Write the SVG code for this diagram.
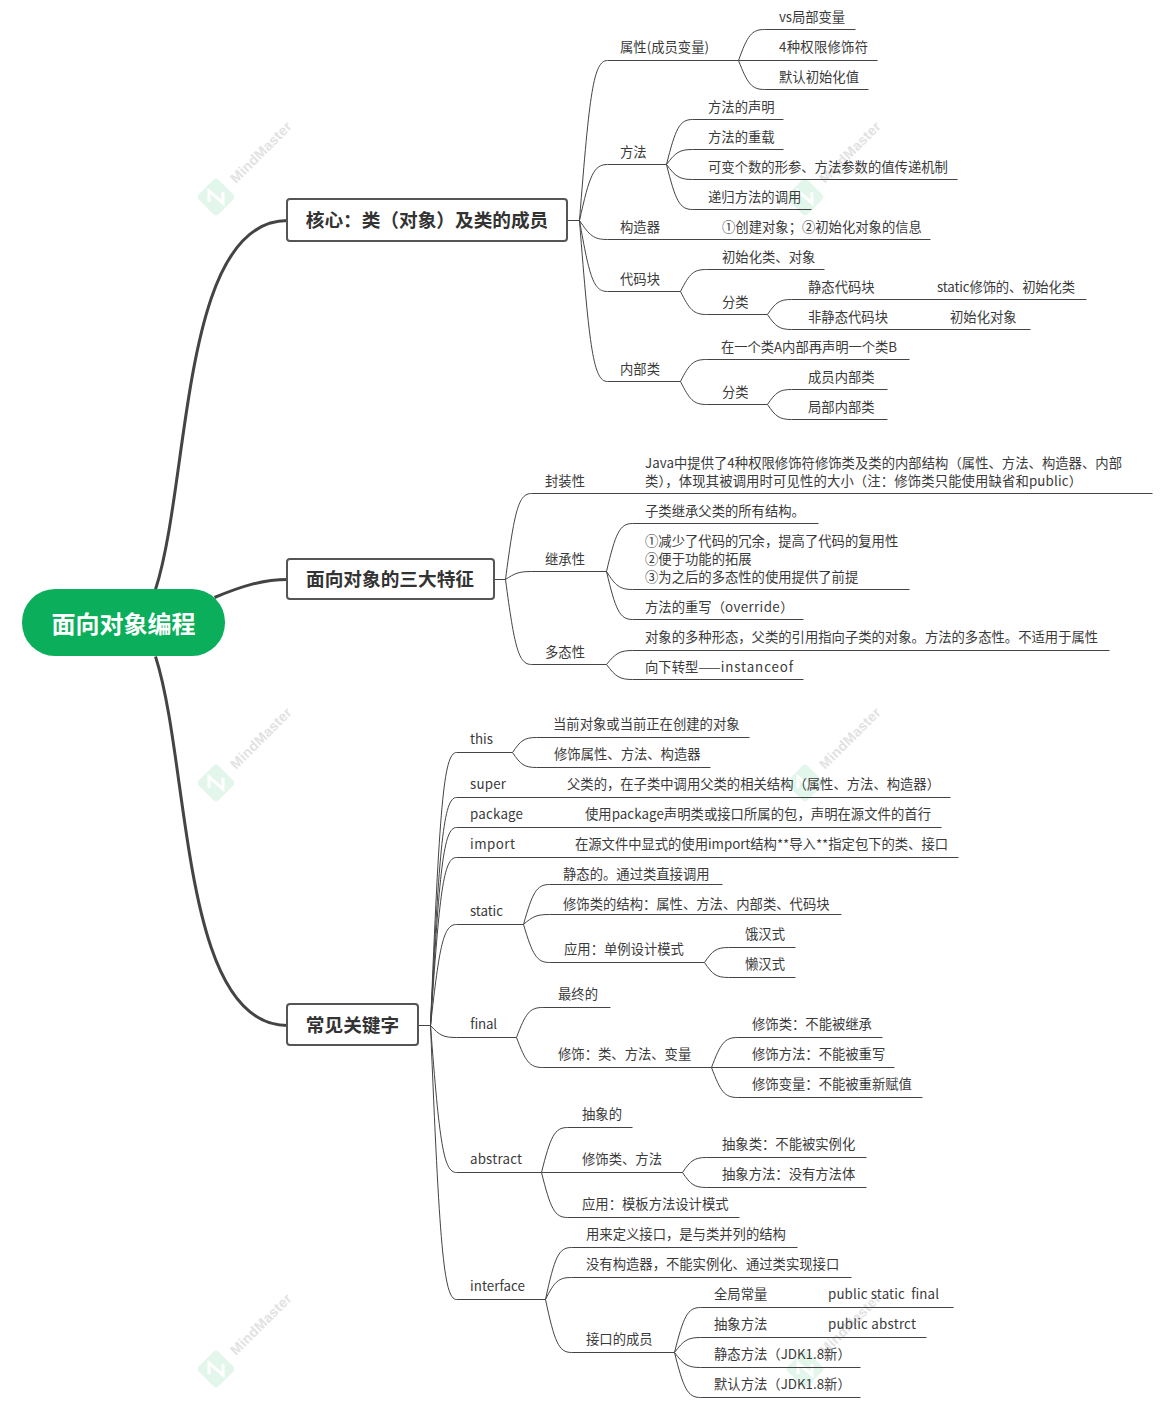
<svg xmlns="http://www.w3.org/2000/svg" width="1172" height="1417" viewBox="0 0 1172 1417">
<style>
text{font-family:"Noto Sans CJK SC","Noto Sans",sans-serif;font-size:13.33px;fill:#3a3a3a}
.t{font-size:18.67px;font-weight:700;text-anchor:middle;fill:#333}
.r{font-size:24px;font-weight:700;fill:#fff;text-anchor:middle}
.b{fill:#fff;stroke:#555;stroke-width:2}
.c{fill:none;stroke:#444;stroke-width:1}
.k{fill:none;stroke:#444;stroke-width:3}
.m{font-family:"Liberation Sans",sans-serif;font-size:14px;font-weight:700;fill:#e2e2e2}
.d{fill:#e2f6ec}
.n{fill:none;stroke:#fff;stroke-width:3}
.l{letter-spacing:.4px}
.i{letter-spacing:.9px}
</style>
<defs>
<g id="wm">
<rect class="d" x="-14" y="-14" width="28" height="28" rx="4" transform="rotate(45)"/>
<path class="n" d="M-7,5 L-7,-6 L7,6 L7,-5"/>
<text class="m" x="0" y="0" textLength="80" transform="translate(20,-13) rotate(-45)">MindMaster</text>
</g>
</defs>
<g id="watermarks">
<use href="#wm" x="216" y="197"/><use href="#wm" x="805" y="197"/>
<use href="#wm" x="216" y="783"/><use href="#wm" x="805" y="783"/>
<use href="#wm" x="216" y="1369"/><use href="#wm" x="805" y="1369"/>
</g>
<g id="connectors" transform="translate(.5,.5)">
<path class="k" d="M155 589C190 480 180 220 287 220"/>
<path class="k" d="M214 597C240 586 262 579 287 579"/>
<path class="k" d="M155 656C190 765 180 1025 287 1025"/>
<path class="c" d="M567 220H579M579 220c10,-128 14,-160 28,-160H738M579 220c10,-45 14,-56 28,-56H666M579 220c10,15 14,19 28,19H930M579 220c10,57 14,71 28,71H680M579 220c10,129 14,161 28,161H680"/>
<path class="c" d="M738 60c9,-25 13,-31 26,-31H855M738 60H877M738 60c9,23 13,29 26,29H868"/>
<path class="c" d="M666 164c9,-36 13,-45 26,-45H783M666 164c9,-12 13,-15 26,-15H783M666 164c9,12 13,15 26,15H957M666 164c9,36 13,45 26,45H811"/>
<path class="c" d="M680 291c9,-18 13,-22 26,-22H824M680 291c9,18 13,23 26,23H767"/>
<path class="c" d="M767 314c8,-12 12,-15 24,-15H1086M767 314c8,12 12,15 24,15H1030"/>
<path class="c" d="M680 381c9,-18 13,-22 26,-22H909M680 381c9,18 13,23 26,23H767"/>
<path class="c" d="M767 404c8,-12 12,-15 24,-15H887M767 404c8,12 12,15 24,15H887"/>
<path class="c" d="M494 579H505M505 579c9,-69 13,-86 26,-86H1152M505 579c9,-6 13,-8 26,-8H606M505 579c9,68 13,85 26,85H606"/>
<path class="c" d="M606 571c9,-38 13,-48 26,-48H818M606 571c9,14 13,18 26,18H909M606 571c9,38 13,48 26,48H803"/>
<path class="c" d="M606 664c9,-11 13,-14 26,-14H1109M606 664c9,12 13,15 26,15H803"/>
<path class="c" d="M418 1025H430M430 1025c9,-218 13,-273 26,-273H512M430 1025c9,-182 13,-228 26,-228H950M430 1025c9,-158 13,-198 26,-198H941M430 1025c9,-134 13,-168 26,-168H958M430 1025c9,-81 13,-101 26,-101H523M430 1025c9,10 13,12 26,12H516M430 1025c9,118 13,147 26,147H541M430 1025c9,219 13,274 26,274H545"/>
<path class="c" d="M512 752c8,-12 12,-15 24,-15H749M512 752c8,12 12,15 24,15H710"/>
<path class="c" d="M523 924c9,-32 13,-40 26,-40H722M523 924c9,-8 13,-10 26,-10H841M523 924c9,30 13,38 26,38H704"/>
<path class="c" d="M704 962c8,-12 12,-15 24,-15H795M704 962c8,12 12,15 24,15H795"/>
<path class="c" d="M516 1037c9,-24 13,-30 26,-30H610M516 1037c9,24 13,30 26,30H711"/>
<path class="c" d="M711 1067c9,-24 13,-30 26,-30H882M711 1067H894M711 1067c9,24 13,30 26,30H922"/>
<path class="c" d="M541 1172c9,-36 13,-45 26,-45H632M541 1172H682M541 1172c9,36 13,45 26,45H739"/>
<path class="c" d="M682 1172c8,-12 12,-15 24,-15H866M682 1172c8,12 12,15 24,15H866"/>
<path class="c" d="M545 1299c9,-42 13,-52 26,-52H797M545 1299c9,-18 13,-22 26,-22H851M545 1299c9,42 13,53 26,53H674"/>
<path class="c" d="M674 1352c9,-36 13,-45 26,-45H953M674 1352c9,-12 13,-15 26,-15H926M674 1352c9,12 13,15 26,15H860M674 1352c9,36 13,45 26,45H860"/>
</g>
<g id="root"><rect x="22" y="589" width="203" height="67" rx="33" fill="#0bae5b"/><text class="r" x="123.500" y="633">面向对象编程</text></g>
<g id="n1"><rect class="b" x="287" y="199" width="280" height="42" rx="3"/><text class="t" x="427" y="227">核心：类（对象）及类的成员</text></g>
<g id="n2"><rect class="b" x="287" y="559" width="207" height="40" rx="3"/><text class="t" x="390" y="586">面向对象的三大特征</text></g>
<g id="n3"><rect class="b" x="287" y="1004" width="131" height="41" rx="3"/><text class="t" x="352.500" y="1032">常见关键字</text></g>
<g id="a1"><text x="620" y="52" textLength="89">属性(成员变量)</text></g>
<g id="a11"><text x="779" y="22" textLength="66">vs局部变量</text></g>
<g id="a12"><text x="779" y="52" textLength="89">4种权限修饰符</text></g>
<g id="a13"><text x="779" y="82">默认初始化值</text></g>
<g id="a2"><text x="620" y="157">方法</text></g>
<g id="a21"><text x="708" y="112">方法的声明</text></g>
<g id="a22"><text x="708" y="142">方法的重载</text></g>
<g id="a23"><text x="708" y="172">可变个数的形参、方法参数的值传递机制</text></g>
<g id="a24"><text x="708" y="202">递归方法的调用</text></g>
<g id="a3"><text x="620" y="232">构造器</text></g>
<g id="a31"><text x="722" y="232">①创建对象；②初始化对象的信息</text></g>
<g id="a4"><text x="620" y="284">代码块</text></g>
<g id="a41"><text x="722" y="262">初始化类、对象</text></g>
<g id="a42"><text x="722" y="307">分类</text></g>
<g id="a421"><text x="808" y="292">静态代码块</text></g>
<g id="a422"><text x="937" y="292" textLength="138">static修饰的、初始化类</text></g>
<g id="a423"><text x="808" y="322">非静态代码块</text></g>
<g id="a424"><text x="950" y="322">初始化对象</text></g>
<g id="a5"><text x="620" y="374">内部类</text></g>
<g id="a51"><text x="721" y="352" textLength="176">在一个类A内部再声明一个类B</text></g>
<g id="a52"><text x="722" y="397">分类</text></g>
<g id="a521"><text x="808" y="382">成员内部类</text></g>
<g id="a522"><text x="808" y="412">局部内部类</text></g>
<g id="b1"><text x="545" y="486">封装性</text></g>
<g id="b11"><text x="645" y="468" textLength="477">Java中提供了4种权限修饰符修饰类及类的内部结构（属性、方法、构造器、内部</text><text x="645" y="486" textLength="437">类），体现其被调用时可见性的大小（注：修饰类只能使用缺省和public）</text></g>
<g id="b2"><text x="545" y="564">继承性</text></g>
<g id="b21"><text x="645" y="516">子类继承父类的所有结构。</text></g>
<g id="b22"><text x="645" y="546">①减少了代码的冗余，提高了代码的复用性</text><text x="645" y="564">②便于功能的拓展</text><text x="645" y="582">③为之后的多态性的使用提供了前提</text></g>
<g id="b23"><text x="645" y="612">方法的重写（<tspan class="l">override</tspan>）</text></g>
<g id="b3"><text x="545" y="657">多态性</text></g>
<g id="b31"><text x="645" y="642">对象的多种形态，父类的引用指向子类的对象。方法的多态性。不适用于属性</text></g>
<g id="b32"><text x="645" y="672">向下转型——<tspan class="i">instanceof</tspan></text></g>
<g id="c1"><text x="470" y="744" textLength="23">this</text></g>
<g id="c11"><text x="553" y="729">当前对象或当前正在创建的对象</text></g>
<g id="c12"><text x="554" y="759">修饰属性、方法、构造器</text></g>
<g id="c2"><text x="470" y="789" textLength="36">super</text></g>
<g id="c21"><text x="567" y="789" textLength="373">父类的，在子类中调用父类的相关结构（属性、方法、构造器）</text></g>
<g id="c3"><text x="470" y="819" textLength="53">package</text></g>
<g id="c31"><text x="585" y="819" textLength="346">使用package声明类或接口所属的包，声明在源文件的首行</text></g>
<g id="c4"><text x="470" y="849" textLength="45">import</text></g>
<g id="c41"><text x="575" y="849" textLength="373">在源文件中显式的使用import结构**导入**指定包下的类、接口</text></g>
<g id="c5"><text x="470" y="916" textLength="33">static</text></g>
<g id="c51"><text x="563" y="879">静态的。通过类直接调用</text></g>
<g id="c52"><text x="563" y="909">修饰类的结构：属性、方法、内部类、代码块</text></g>
<g id="c53"><text x="564" y="954">应用：单例设计模式</text></g>
<g id="c531"><text x="745" y="939">饿汉式</text></g>
<g id="c532"><text x="745" y="969">懒汉式</text></g>
<g id="c6"><text x="470" y="1029" textLength="27">final</text></g>
<g id="c61"><text x="558" y="999">最终的</text></g>
<g id="c62"><text x="558" y="1059">修饰：类、方法、变量</text></g>
<g id="c621"><text x="752" y="1029">修饰类：不能被继承</text></g>
<g id="c622"><text x="752" y="1059">修饰方法：不能被重写</text></g>
<g id="c623"><text x="752" y="1089">修饰变量：不能被重新赋值</text></g>
<g id="c7"><text x="470" y="1164" textLength="52">abstract</text></g>
<g id="c71"><text x="582" y="1119">抽象的</text></g>
<g id="c72"><text x="582" y="1164">修饰类、方法</text></g>
<g id="c73"><text x="582" y="1209">应用：模板方法设计模式</text></g>
<g id="c721"><text x="722" y="1149">抽象类：不能被实例化</text></g>
<g id="c722"><text x="722" y="1179">抽象方法：没有方法体</text></g>
<g id="c8"><text x="470" y="1291" textLength="55">interface</text></g>
<g id="c81"><text x="586" y="1239">用来定义接口，是与类并列的结构</text></g>
<g id="c82"><text x="586" y="1269">没有构造器，不能实例化、通过类实现接口</text></g>
<g id="c83"><text x="586" y="1344">接口的成员</text></g>
<g id="c831"><text x="714" y="1299">全局常量</text><text x="828" y="1299" textLength="111" xml:space="preserve">public static  final</text></g>
<g id="c832"><text x="714" y="1329">抽象方法</text><text x="828" y="1329" textLength="88">public abstrct</text></g>
<g id="c833"><text x="714" y="1359">静态方法（JDK1.8新）</text></g>
<g id="c834"><text x="714" y="1389">默认方法（JDK1.8新）</text></g>
</svg>
